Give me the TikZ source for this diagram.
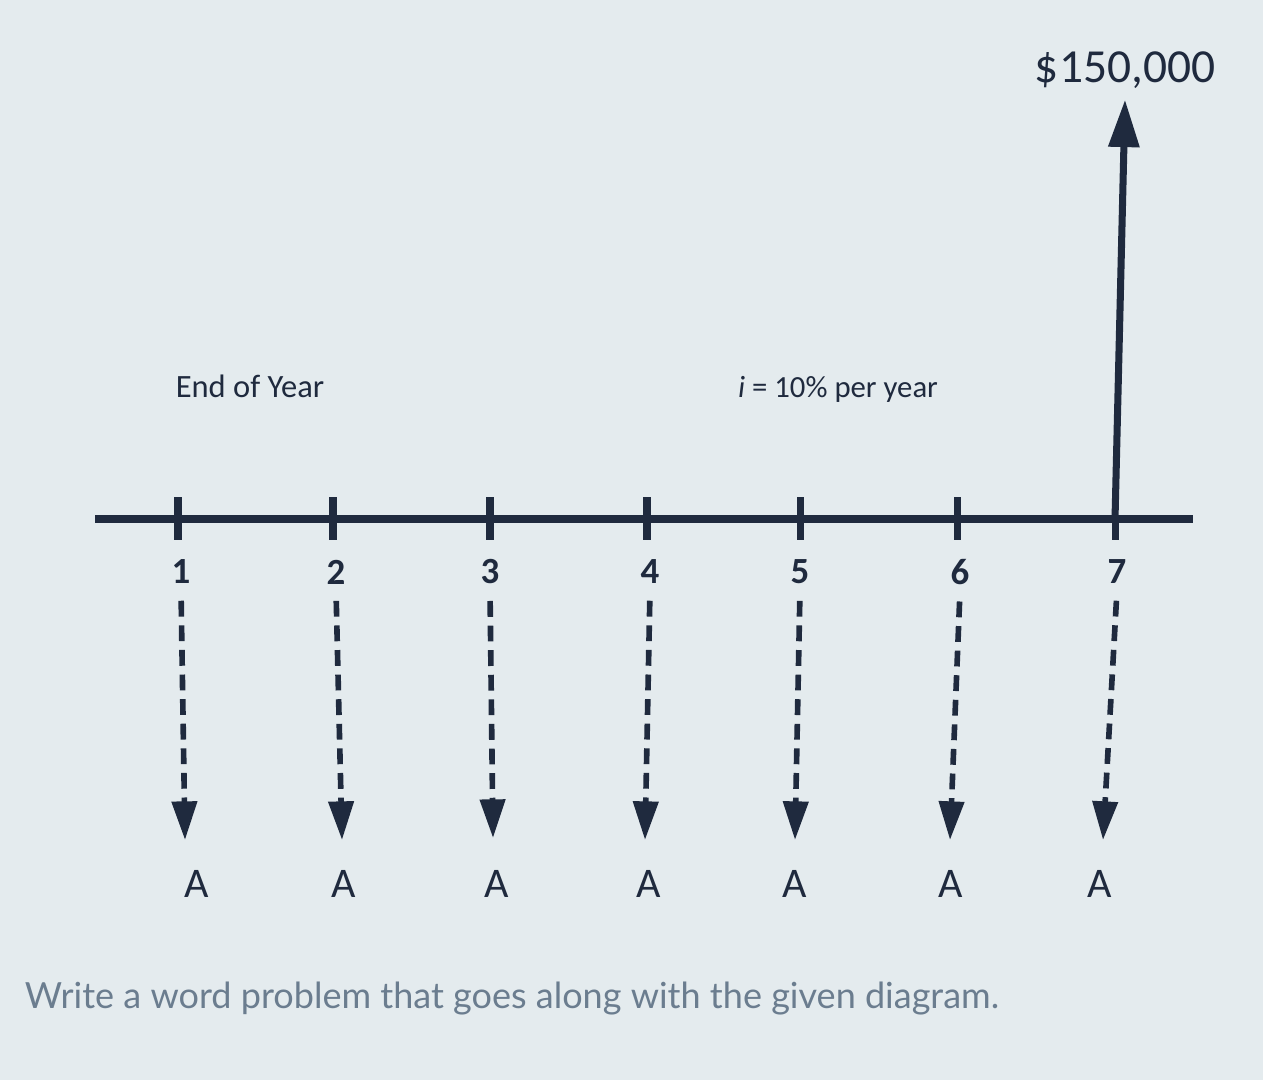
\documentclass[tikz,border=0pt]{standalone}
\usepackage{fontspec}
\setmainfont{Carlito}
\newfontfamily\notefont{Lato}
\usetikzlibrary{arrows.meta}
\definecolor{bgpaper}{HTML}{E4EBEE}
\definecolor{inkblue}{HTML}{1F2A3E}
\definecolor{notegray}{HTML}{6B7D8F}
\begin{document}
\begin{tikzpicture}[x=0.02cm,y=-0.02cm,
    yearnum/.style={inkblue,font=\fontsize{21}{23}\selectfont\bfseries},
    payA/.style={inkblue,font=\fontsize{24}{26}\selectfont},
    payflow/.style={inkblue,line width=3.2pt,dash pattern=on 9pt off 5pt,
      shorten <=6pt,-{Triangle[width=14pt,length=22pt]}},
    tickmark/.style={inkblue,line width=4pt}]
  \fill[bgpaper] (0,0) rectangle (1263,1080);
  \useasboundingbox (0,0) rectangle (1263,1080);
  % time line
  \draw[inkblue,line width=4.5pt] (95,519) coordinate (axL) -- (1193,519) coordinate (axR);
  \draw[tickmark] (178,497) -- (178,540);
  \draw[tickmark] (333,497) -- (333,540);
  \draw[tickmark] (490,497) -- (490,540);
  \draw[tickmark] (647,497) -- (647,540);
  \draw[tickmark] (800,497) -- (800,540);
  \draw[tickmark] (957,497) -- (957,540);
  \draw[tickmark] (1115,519) -- (1115,540);
  % labels
  \draw
    (250,386) node[inkblue,font=\fontsize{18.5}{20}\selectfont] (eoy) {End of Year}
    (838,389) node[inkblue,font=\fontsize{17.5}{20}\selectfont] (rate) {\textit{i} = 10\% per year}
    (1125,70) node[inkblue,font=\fontsize{27}{30}\selectfont] (fv) {\$150,000}
    (512,998) node[notegray,font=\notefont\fontsize{20.5}{22}\selectfont] (task)
      {Write a word problem that goes along with the given diagram.};
  % year numbers
  \draw
    (181,572) node[yearnum] (n1) {1}
    (336,572) node[yearnum] (n2) {2}
    (490,572) node[yearnum] (n3) {3}
    (650,572) node[yearnum] (n4) {4}
    (800,572) node[yearnum] (n5) {5}
    (960,572) node[yearnum] (n6) {6}
    (1117,572) node[yearnum] (n7) {7};
  % payments
  \draw
    (197,884) node[payA] (a1) {A}
    (344,884) node[payA] (a2) {A}
    (497,884) node[payA] (a3) {A}
    (649,884) node[payA] (a4) {A}
    (795,884) node[payA] (a5) {A}
    (951,884) node[payA] (a6) {A}
    (1100,884) node[payA] (a7) {A};
  \coordinate (e1) at (185,840);
  \coordinate (e2) at (342,840);
  \coordinate (e3) at (493,838);
  \coordinate (e4) at (645,840);
  \coordinate (e5) at (795,840);
  \coordinate (e6) at (950,840);
  \coordinate (e7) at (1103,840);
  \begin{scope}[payflow]
    \draw (n1.south) to (e1);
    \draw (n2.south) to (e2);
    \draw (n3.south) to (e3);
    \draw (n4.south) to (e4);
    \draw (n5.south) to (e5);
    \draw (n6.south) to (e6);
    \draw (n7.south) to (e7);
  \end{scope}
  % future amount
  \coordinate (base7) at (1115,519);
  \draw[inkblue,line width=4pt,-{Triangle[width=17pt,length=27pt]}]
    (base7) to ([yshift=-0.1cm]fv.south);
\end{tikzpicture}
\end{document}
